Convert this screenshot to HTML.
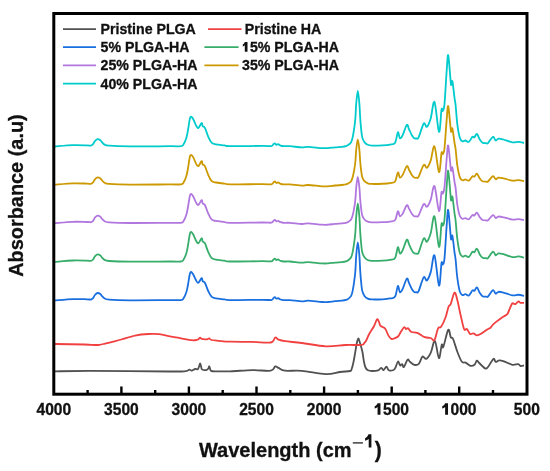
<!DOCTYPE html>
<html><head><meta charset="utf-8"><style>
html,body{margin:0;padding:0;background:#fff;}
svg{display:block;will-change:transform;}
text{font-family:"Liberation Sans",sans-serif;font-weight:bold;fill:#111;stroke:#111;stroke-width:0.3px;}
</style></head><body>
<svg width="550" height="471" viewBox="0 0 550 471">
<rect x="0" y="0" width="550" height="471" fill="#fff"/>
<path fill="none" stroke="#515151" stroke-width="1.8" stroke-linejoin="round" d="M55.00,371.40 C60.83,371.30 70.83,370.78 90.00,370.80 C109.17,370.82 154.03,371.45 170.00,371.50 C185.97,371.55 182.58,371.42 185.80,371.10 C189.02,370.78 188.32,369.68 189.30,369.60 C190.28,369.52 190.72,370.70 191.70,370.60 C192.68,370.50 194.18,369.23 195.20,369.00 C196.22,368.77 197.13,369.70 197.80,369.20 C198.47,368.70 198.82,366.98 199.20,366.00 C199.58,365.02 199.80,363.30 200.10,363.30 C200.40,363.30 200.68,364.98 201.00,366.00 C201.32,367.02 201.12,368.72 202.00,369.40 C202.88,370.08 205.23,370.25 206.30,370.10 C207.37,369.95 207.92,369.15 208.40,368.50 C208.88,367.85 208.93,366.20 209.20,366.20 C209.47,366.20 209.70,367.73 210.00,368.50 C210.30,369.27 210.17,370.32 211.00,370.80 C211.83,371.28 211.75,371.32 215.00,371.40 C218.25,371.48 224.28,371.52 230.50,371.30 C236.72,371.08 245.58,370.20 252.30,370.10 C259.02,370.00 266.98,371.32 270.80,370.70 C274.62,370.08 273.92,366.87 275.20,366.40 C276.48,365.93 276.87,367.18 278.50,367.90 C280.13,368.62 281.12,370.22 285.00,370.70 C288.88,371.18 295.00,370.23 301.80,370.80 C308.60,371.37 319.43,373.90 325.80,374.10 C332.17,374.30 335.97,372.52 340.00,372.00 C344.03,371.48 348.08,371.42 350.00,371.00 C351.92,370.58 350.92,371.00 351.50,369.50 C352.08,368.00 352.87,364.95 353.50,362.00 C354.13,359.05 354.75,354.97 355.30,351.80 C355.85,348.63 356.28,345.22 356.80,343.00 C357.32,340.78 357.87,338.50 358.40,338.50 C358.93,338.50 359.33,340.78 360.00,343.00 C360.67,345.22 361.73,348.63 362.40,351.80 C363.07,354.97 363.48,359.38 364.00,362.00 C364.52,364.62 364.83,366.12 365.50,367.50 C366.17,368.88 366.92,369.72 368.00,370.30 C369.08,370.88 370.30,371.00 372.00,371.00 C373.70,371.00 376.65,370.83 378.20,370.30 C379.75,369.77 380.40,367.85 381.30,367.80 C382.20,367.75 382.75,370.20 383.60,370.00 C384.45,369.80 385.53,366.57 386.40,366.60 C387.27,366.63 387.62,369.63 388.80,370.20 C389.98,370.77 392.38,370.45 393.50,370.00 C394.62,369.55 394.75,368.92 395.50,367.50 C396.25,366.08 397.22,361.82 398.00,361.50 C398.78,361.18 399.52,365.17 400.20,365.60 C400.88,366.03 401.48,363.87 402.10,364.10 C402.72,364.33 402.98,367.75 403.90,367.00 C404.82,366.25 406.60,360.47 407.60,359.60 C408.60,358.73 408.78,360.93 409.90,361.80 C411.02,362.67 412.82,364.47 414.30,364.80 C415.78,365.13 417.43,365.17 418.80,363.80 C420.17,362.43 421.27,357.42 422.50,356.60 C423.73,355.78 424.83,359.52 426.20,358.90 C427.57,358.28 429.25,355.88 430.70,352.90 C432.15,349.92 433.53,340.13 434.90,341.00 C436.27,341.87 437.75,357.48 438.90,358.10 C440.05,358.72 441.07,346.55 441.80,344.70 C442.53,342.85 442.23,349.47 443.30,347.00 C444.37,344.53 446.95,331.52 448.20,329.90 C449.45,328.28 450.00,335.82 450.80,337.30 C451.60,338.78 451.88,336.32 453.00,338.80 C454.12,341.28 456.02,348.37 457.50,352.20 C458.98,356.03 460.55,360.07 461.90,361.80 C463.25,363.53 464.20,361.93 465.60,362.60 C467.00,363.27 468.82,365.43 470.30,365.80 C471.78,366.17 473.42,365.65 474.50,364.80 C475.58,363.95 476.02,361.00 476.80,360.70 C477.58,360.40 477.82,361.72 479.20,363.00 C480.58,364.28 483.63,367.73 485.10,368.40 C486.57,369.07 486.62,368.58 488.00,367.00 C489.38,365.42 492.12,359.75 493.40,358.90 C494.68,358.05 494.72,361.67 495.70,361.90 C496.68,362.13 497.92,360.40 499.30,360.30 C500.68,360.20 501.83,360.55 504.00,361.30 C506.17,362.05 509.93,364.32 512.30,364.80 C514.67,365.28 516.82,364.00 518.20,364.20 C519.58,364.40 519.63,365.80 520.60,366.00 C521.57,366.20 523.43,365.50 524.00,365.40"/><path fill="none" stroke="#F14040" stroke-width="1.8" stroke-linejoin="round" d="M55.00,344.00 C60.00,344.08 78.50,344.33 85.00,344.50 C91.50,344.67 91.58,344.95 94.00,345.00 C96.42,345.05 97.67,345.03 99.50,344.80 C101.33,344.57 102.87,344.10 105.00,343.60 C107.13,343.10 109.57,342.48 112.30,341.80 C115.03,341.12 117.62,340.53 121.40,339.50 C125.18,338.47 130.53,336.52 135.00,335.60 C139.47,334.68 144.18,334.23 148.20,334.00 C152.22,333.77 155.47,333.80 159.10,334.20 C162.73,334.60 167.20,335.88 170.00,336.40 C172.80,336.92 172.28,336.67 175.90,337.30 C179.52,337.93 188.10,339.82 191.70,340.20 C195.30,340.58 196.28,339.87 197.50,339.60 C198.72,339.33 198.57,338.93 199.00,338.60 C199.43,338.27 199.70,337.57 200.10,337.60 C200.50,337.63 200.92,338.55 201.40,338.80 C201.88,339.05 202.08,339.02 203.00,339.10 C203.92,339.18 205.87,339.40 206.90,339.30 C207.93,339.20 208.43,338.38 209.20,338.50 C209.97,338.62 209.93,339.62 211.50,340.00 C213.07,340.38 215.43,340.52 218.60,340.80 C221.77,341.08 224.88,341.52 230.50,341.70 C236.12,341.88 245.58,341.77 252.30,341.90 C259.02,342.03 266.98,343.23 270.80,342.50 C274.62,341.77 273.92,337.98 275.20,337.50 C276.48,337.02 276.87,338.98 278.50,339.60 C280.13,340.22 281.12,340.63 285.00,341.20 C288.88,341.77 295.00,342.15 301.80,343.00 C308.60,343.85 318.52,345.97 325.80,346.30 C333.08,346.63 339.55,345.23 345.50,345.00 C351.45,344.77 358.37,345.23 361.50,344.90 C364.63,344.57 363.52,343.73 364.30,343.00 C365.08,342.27 365.37,342.05 366.20,340.50 C367.03,338.95 367.98,336.12 369.30,333.70 C370.62,331.28 372.82,328.40 374.10,326.00 C375.38,323.60 376.20,320.02 377.00,319.30 C377.80,318.58 378.35,320.65 378.90,321.70 C379.45,322.75 379.50,324.63 380.30,325.60 C381.10,326.57 382.82,326.87 383.70,327.50 C384.58,328.13 384.80,328.05 385.60,329.40 C386.40,330.75 387.55,334.02 388.50,335.60 C389.45,337.18 390.35,338.42 391.30,338.90 C392.25,339.38 393.08,338.90 394.20,338.50 C395.32,338.10 396.88,337.62 398.00,336.50 C399.12,335.38 399.87,333.35 400.90,331.80 C401.93,330.25 403.32,327.65 404.20,327.20 C405.08,326.75 405.55,328.92 406.20,329.10 C406.85,329.28 407.23,327.82 408.10,328.30 C408.97,328.78 409.87,331.25 411.40,332.00 C412.93,332.75 415.08,331.93 417.30,332.80 C419.52,333.67 422.47,336.33 424.70,337.20 C426.93,338.07 429.08,337.50 430.70,338.00 C432.32,338.50 433.17,341.82 434.40,340.20 C435.63,338.58 436.98,330.53 438.10,328.30 C439.22,326.07 439.85,328.65 441.10,326.80 C442.35,324.95 444.37,320.53 445.60,317.20 C446.83,313.87 447.63,309.03 448.50,306.80 C449.37,304.57 449.80,306.17 450.80,303.80 C451.80,301.43 453.38,293.10 454.50,292.60 C455.62,292.10 456.52,297.20 457.50,300.80 C458.48,304.40 459.30,309.48 460.40,314.20 C461.50,318.92 463.02,326.63 464.10,329.10 C465.18,331.57 465.90,328.18 466.90,329.00 C467.90,329.82 469.03,333.27 470.10,334.00 C471.17,334.73 472.13,333.18 473.30,333.40 C474.47,333.62 475.72,335.30 477.10,335.30 C478.48,335.30 479.90,334.38 481.60,333.40 C483.30,332.42 485.82,330.35 487.30,329.40 C488.78,328.45 489.43,328.62 490.50,327.70 C491.57,326.78 491.78,325.60 493.70,323.90 C495.62,322.20 499.77,319.10 502.00,317.50 C504.23,315.90 505.93,315.47 507.10,314.30 C508.27,313.13 508.15,312.30 509.00,310.50 C509.85,308.70 511.15,304.57 512.20,303.50 C513.25,302.43 514.25,304.47 515.30,304.10 C516.35,303.73 517.65,301.52 518.50,301.30 C519.35,301.08 519.48,302.55 520.40,302.80 C521.32,303.05 523.40,302.80 524.00,302.80"/><path fill="none" stroke="#1A6FDF" stroke-width="1.8" stroke-linejoin="round" d="M55.00,300.40 C58.00,300.18 67.67,299.28 73.00,299.10 C78.33,298.92 84.02,299.23 87.00,299.30 C89.98,299.37 89.88,299.70 90.90,299.50 C91.92,299.30 92.43,298.85 93.10,298.10 C93.77,297.35 94.17,295.85 94.90,295.00 C95.63,294.15 96.58,293.15 97.50,293.00 C98.42,292.85 99.68,293.62 100.40,294.10 C101.12,294.58 101.08,295.17 101.80,295.90 C102.52,296.63 103.48,297.88 104.70,298.50 C105.92,299.12 104.88,299.30 109.10,299.60 C113.32,299.90 119.85,300.22 130.00,300.30 C140.15,300.38 161.52,300.13 170.00,300.10 C178.48,300.07 178.63,300.41 180.90,300.11 C183.17,299.82 182.68,299.66 183.60,298.31 C184.52,296.96 185.67,294.30 186.40,292.04 C187.13,289.78 187.37,287.92 188.00,284.72 C188.63,281.53 189.38,274.65 190.20,272.85 C191.02,271.04 191.90,272.60 192.90,273.89 C193.90,275.19 195.28,279.17 196.20,280.64 C197.12,282.11 197.50,283.16 198.40,282.73 C199.30,282.30 200.88,278.33 201.60,278.07 C202.32,277.82 202.15,280.43 202.70,281.21 C203.25,281.99 203.98,281.10 204.90,282.73 C205.82,284.36 207.10,288.67 208.20,290.99 C209.30,293.32 210.23,295.48 211.50,296.69 C212.77,297.91 213.63,297.87 215.80,298.31 C217.97,298.75 222.13,299.05 224.50,299.35 C226.87,299.66 223.75,300.04 230.00,300.11 C236.25,300.19 255.12,299.82 262.00,299.80 C268.88,299.78 269.43,300.23 271.30,300.00 C273.17,299.77 272.62,298.87 273.20,298.40 C273.78,297.93 274.25,297.15 274.80,297.20 C275.35,297.25 275.95,298.55 276.50,298.70 C277.05,298.85 277.43,297.97 278.10,298.10 C278.77,298.23 279.55,299.17 280.50,299.50 C281.45,299.83 282.22,300.00 283.80,300.10 C285.38,300.20 286.97,299.90 290.00,300.10 C293.03,300.30 299.00,301.20 302.00,301.30 C305.00,301.40 304.67,300.58 308.00,300.70 C311.33,300.82 318.67,301.78 322.00,302.00 C325.33,302.22 325.83,302.13 328.00,302.00 C330.17,301.87 332.67,301.42 335.00,301.20 C337.33,300.98 340.17,300.90 342.00,300.70 C343.83,300.50 344.92,300.33 346.00,299.98 C347.08,299.64 347.65,299.30 348.50,298.62 C349.35,297.94 350.40,297.25 351.10,295.91 C351.80,294.57 352.17,293.12 352.70,290.58 C353.23,288.03 353.85,283.98 354.30,280.65 C354.75,277.32 355.08,274.75 355.40,270.62 C355.72,266.49 355.80,260.60 356.20,255.88 C356.60,251.16 357.27,242.30 357.80,242.30 C358.33,242.30 359.00,251.16 359.40,255.88 C359.80,260.60 359.93,266.49 360.20,270.62 C360.47,274.75 360.67,277.32 361.00,280.65 C361.33,283.98 361.62,288.03 362.20,290.58 C362.78,293.12 363.58,294.57 364.50,295.91 C365.42,297.25 366.45,298.03 367.70,298.62 C368.95,299.22 369.53,299.35 372.00,299.46 C374.47,299.57 379.50,299.45 382.50,299.29 C385.50,299.13 387.90,298.94 390.00,298.48 C392.10,298.03 393.78,298.65 395.10,296.56 C396.42,294.47 397.10,286.70 397.90,285.96 C398.70,285.22 399.10,291.63 399.90,292.12 C400.70,292.61 401.55,291.14 402.70,288.89 C403.85,286.63 405.73,279.54 406.80,278.58 C407.87,277.62 408.23,281.34 409.10,283.13 C409.97,284.91 411.15,287.81 412.00,289.29 C412.85,290.77 413.47,291.53 414.20,292.02 C414.93,292.51 415.67,292.35 416.40,292.22 C417.13,292.08 417.38,293.70 418.60,291.21 C419.82,288.72 422.32,279.06 423.70,277.27 C425.08,275.49 425.73,281.36 426.90,280.50 C428.07,279.64 429.43,276.29 430.70,272.12 C431.97,267.95 433.12,253.20 434.50,255.45 C435.88,257.71 437.83,284.37 439.00,285.65 C440.17,286.93 440.87,266.67 441.50,263.13 C442.13,259.60 442.30,265.24 442.80,264.44 C443.30,263.64 443.85,264.87 444.50,258.32 C445.15,251.78 446.08,233.21 446.70,225.16 C447.32,217.11 447.57,208.54 448.20,210.01 C448.83,211.48 450.02,229.04 450.50,233.97 C450.98,238.90 450.78,239.30 451.10,239.61 C451.42,239.93 451.82,233.64 452.40,235.85 C452.98,238.06 454.07,248.97 454.60,252.88 C455.13,256.79 455.15,255.16 455.60,259.31 C456.05,263.45 456.60,272.39 457.30,277.74 C458.00,283.10 458.93,288.54 459.80,291.44 C460.67,294.34 461.58,294.68 462.50,295.14 C463.42,295.60 464.23,294.14 465.30,294.19 C466.37,294.24 467.70,296.09 468.90,295.45 C470.10,294.81 471.58,291.12 472.50,290.35 C473.42,289.58 473.67,291.33 474.40,290.83 C475.13,290.33 476.00,287.00 476.90,287.36 C477.80,287.72 478.87,291.51 479.80,292.98 C480.73,294.44 481.43,295.56 482.50,296.17 C483.57,296.78 485.28,296.57 486.20,296.62 C487.12,296.68 486.87,297.59 488.00,296.49 C489.13,295.40 491.72,290.52 493.00,290.06 C494.28,289.60 494.78,293.47 495.70,293.76 C496.62,294.05 497.20,291.99 498.50,291.80 C499.80,291.61 501.17,292.05 503.50,292.64 C505.83,293.23 510.02,294.98 512.50,295.34 C514.98,295.69 516.48,294.66 518.40,294.75 C520.32,294.84 523.07,295.69 524.00,295.88"/><path fill="none" stroke="#37AD6B" stroke-width="1.8" stroke-linejoin="round" d="M55.00,261.80 C58.00,261.58 67.67,260.68 73.00,260.50 C78.33,260.32 84.02,260.63 87.00,260.70 C89.98,260.77 89.88,261.10 90.90,260.90 C91.92,260.70 92.43,260.25 93.10,259.50 C93.77,258.75 94.17,257.25 94.90,256.40 C95.63,255.55 96.58,254.55 97.50,254.40 C98.42,254.25 99.68,255.02 100.40,255.50 C101.12,255.98 101.08,256.57 101.80,257.30 C102.52,258.03 103.48,259.28 104.70,259.90 C105.92,260.52 104.88,260.70 109.10,261.00 C113.32,261.30 119.85,261.62 130.00,261.70 C140.15,261.78 161.52,261.53 170.00,261.50 C178.48,261.47 178.63,261.82 180.90,261.50 C183.17,261.18 182.68,261.02 183.60,259.60 C184.52,258.18 185.67,255.38 186.40,253.00 C187.13,250.62 187.37,248.67 188.00,245.30 C188.63,241.93 189.38,234.70 190.20,232.80 C191.02,230.90 191.90,232.53 192.90,233.90 C193.90,235.27 195.28,239.45 196.20,241.00 C197.12,242.55 197.50,243.65 198.40,243.20 C199.30,242.75 200.88,238.57 201.60,238.30 C202.32,238.03 202.15,240.78 202.70,241.60 C203.25,242.42 203.98,241.48 204.90,243.20 C205.82,244.92 207.10,249.45 208.20,251.90 C209.30,254.35 210.23,256.62 211.50,257.90 C212.77,259.18 213.63,259.13 215.80,259.60 C217.97,260.07 222.13,260.38 224.50,260.70 C226.87,261.02 223.75,261.42 230.00,261.50 C236.25,261.58 255.12,261.22 262.00,261.20 C268.88,261.18 269.43,261.63 271.30,261.40 C273.17,261.17 272.62,260.27 273.20,259.80 C273.78,259.33 274.25,258.55 274.80,258.60 C275.35,258.65 275.95,259.95 276.50,260.10 C277.05,260.25 277.43,259.37 278.10,259.50 C278.77,259.63 279.55,260.57 280.50,260.90 C281.45,261.23 282.22,261.40 283.80,261.50 C285.38,261.60 286.97,261.30 290.00,261.50 C293.03,261.70 299.00,262.60 302.00,262.70 C305.00,262.80 304.67,261.98 308.00,262.10 C311.33,262.22 318.67,263.18 322.00,263.40 C325.33,263.62 325.83,263.53 328.00,263.40 C330.17,263.27 332.67,262.82 335.00,262.60 C337.33,262.38 340.17,262.30 342.00,262.10 C343.83,261.90 344.92,261.73 346.00,261.38 C347.08,261.03 347.65,260.70 348.50,260.02 C349.35,259.33 350.40,258.63 351.10,257.29 C351.80,255.94 352.17,254.49 352.70,251.93 C353.23,249.38 353.85,245.30 354.30,241.96 C354.75,238.61 355.08,236.02 355.40,231.88 C355.72,227.73 355.80,221.81 356.20,217.07 C356.60,212.33 357.27,203.42 357.80,203.42 C358.33,203.42 359.00,212.33 359.40,217.07 C359.80,221.81 359.93,227.73 360.20,231.88 C360.47,236.02 360.67,238.61 361.00,241.96 C361.33,245.30 361.62,249.38 362.20,251.93 C362.78,254.49 363.58,255.94 364.50,257.29 C365.42,258.63 366.45,259.42 367.70,260.02 C368.95,260.61 369.53,260.74 372.00,260.86 C374.47,260.97 379.50,260.84 382.50,260.68 C385.50,260.51 387.90,260.32 390.00,259.86 C392.10,259.40 393.78,260.03 395.10,257.92 C396.42,255.82 397.10,247.96 397.90,247.21 C398.70,246.47 399.10,252.94 399.90,253.44 C400.70,253.93 401.55,252.45 402.70,250.17 C403.85,247.89 405.73,240.74 406.80,239.77 C407.87,238.80 408.23,242.56 409.10,244.36 C409.97,246.16 411.15,249.08 412.00,250.58 C412.85,252.08 413.47,252.84 414.20,253.33 C414.93,253.83 415.67,253.67 416.40,253.54 C417.13,253.40 417.38,255.03 418.60,252.52 C419.82,250.00 422.32,240.24 423.70,238.44 C425.08,236.64 425.73,242.57 426.90,241.71 C428.07,240.84 429.43,237.46 430.70,233.24 C431.97,229.02 433.12,214.13 434.50,216.41 C435.88,218.69 437.83,245.62 439.00,246.91 C440.17,248.20 440.87,227.73 441.50,224.16 C442.13,220.59 442.30,226.28 442.80,225.49 C443.30,224.70 443.85,226.00 444.50,219.43 C445.15,212.85 446.08,194.14 446.70,186.03 C447.32,177.92 447.57,169.30 448.20,170.77 C448.83,172.25 450.02,189.93 450.50,194.90 C450.98,199.87 450.78,200.27 451.10,200.58 C451.42,200.90 451.82,194.57 452.40,196.80 C452.98,199.02 454.07,210.01 454.60,213.94 C455.13,217.88 455.15,216.25 455.60,220.42 C456.05,224.58 456.60,233.54 457.30,238.93 C458.00,244.33 458.93,249.85 459.80,252.78 C460.67,255.72 461.58,256.07 462.50,256.53 C463.42,257.00 464.23,255.53 465.30,255.59 C466.37,255.65 467.70,257.53 468.90,256.89 C470.10,256.25 471.58,252.53 472.50,251.76 C473.42,250.98 473.67,252.75 474.40,252.25 C475.13,251.75 476.00,248.39 476.90,248.76 C477.80,249.13 478.87,252.96 479.80,254.45 C480.73,255.94 481.43,257.07 482.50,257.69 C483.57,258.31 485.28,258.11 486.20,258.17 C487.12,258.23 486.87,259.15 488.00,258.05 C489.13,256.95 491.72,252.03 493.00,251.58 C494.28,251.13 494.78,255.03 495.70,255.33 C496.62,255.63 497.20,253.55 498.50,253.37 C499.80,253.19 501.17,253.64 503.50,254.24 C505.83,254.85 510.02,256.65 512.50,257.02 C514.98,257.39 516.48,256.36 518.40,256.46 C520.32,256.57 523.07,257.44 524.00,257.64"/><path fill="none" stroke="#B177DE" stroke-width="1.8" stroke-linejoin="round" d="M55.00,223.10 C58.00,222.88 67.67,221.98 73.00,221.80 C78.33,221.62 84.02,221.93 87.00,222.00 C89.98,222.07 89.88,222.40 90.90,222.20 C91.92,222.00 92.43,221.55 93.10,220.80 C93.77,220.05 94.17,218.55 94.90,217.70 C95.63,216.85 96.58,215.85 97.50,215.70 C98.42,215.55 99.68,216.32 100.40,216.80 C101.12,217.28 101.08,217.87 101.80,218.60 C102.52,219.33 103.48,220.58 104.70,221.20 C105.92,221.82 104.88,222.00 109.10,222.30 C113.32,222.60 119.85,222.92 130.00,223.00 C140.15,223.08 161.52,222.83 170.00,222.80 C178.48,222.77 178.63,223.11 180.90,222.81 C183.17,222.50 182.68,222.34 183.60,220.96 C184.52,219.57 185.67,216.84 186.40,214.52 C187.13,212.20 187.37,210.29 188.00,207.01 C188.63,203.73 189.38,196.68 190.20,194.82 C191.02,192.97 191.90,194.56 192.90,195.90 C193.90,197.23 195.28,201.31 196.20,202.82 C197.12,204.33 197.50,205.40 198.40,204.97 C199.30,204.53 200.88,200.45 201.60,200.19 C202.32,199.93 202.15,202.61 202.70,203.41 C203.25,204.20 203.98,203.29 204.90,204.97 C205.82,206.64 207.10,211.06 208.20,213.45 C209.30,215.84 210.23,218.05 211.50,219.30 C212.77,220.55 213.63,220.50 215.80,220.96 C217.97,221.41 222.13,221.72 224.50,222.03 C226.87,222.34 223.75,222.73 230.00,222.81 C236.25,222.89 255.12,222.52 262.00,222.50 C268.88,222.48 269.43,222.93 271.30,222.70 C273.17,222.47 272.62,221.57 273.20,221.10 C273.78,220.63 274.25,219.85 274.80,219.90 C275.35,219.95 275.95,221.25 276.50,221.40 C277.05,221.55 277.43,220.67 278.10,220.80 C278.77,220.93 279.55,221.87 280.50,222.20 C281.45,222.53 282.22,222.70 283.80,222.80 C285.38,222.90 286.97,222.60 290.00,222.80 C293.03,223.00 299.00,223.90 302.00,224.00 C305.00,224.10 304.67,223.28 308.00,223.40 C311.33,223.52 318.67,224.48 322.00,224.70 C325.33,224.92 325.83,224.83 328.00,224.70 C330.17,224.57 332.67,224.12 335.00,223.90 C337.33,223.68 340.17,223.59 342.00,223.40 C343.83,223.21 344.92,223.05 346.00,222.77 C347.08,222.48 347.65,222.23 348.50,221.69 C349.35,221.15 350.40,220.60 351.10,219.53 C351.80,218.47 352.17,217.32 352.70,215.30 C353.23,213.28 353.85,210.06 354.30,207.41 C354.75,204.77 355.08,202.72 355.40,199.44 C355.72,196.17 355.80,191.49 356.20,187.74 C356.60,183.99 357.27,176.95 357.80,176.95 C358.33,176.95 359.00,183.99 359.40,187.74 C359.80,191.49 359.93,196.17 360.20,199.44 C360.47,202.72 360.67,204.77 361.00,207.41 C361.33,210.06 361.62,213.28 362.20,215.30 C362.78,217.32 363.58,218.47 364.50,219.53 C365.42,220.60 366.45,221.22 367.70,221.69 C368.95,222.16 369.53,222.27 372.00,222.35 C374.47,222.44 379.50,222.33 382.50,222.19 C385.50,222.05 387.90,221.90 390.00,221.52 C392.10,221.15 393.78,221.66 395.10,219.95 C396.42,218.23 397.10,211.84 397.90,211.23 C398.70,210.62 399.10,215.89 399.90,216.29 C400.70,216.70 401.55,215.49 402.70,213.64 C403.85,211.78 405.73,205.96 406.80,205.17 C407.87,204.38 408.23,207.44 409.10,208.91 C409.97,210.37 411.15,212.75 412.00,213.97 C412.85,215.19 413.47,215.81 414.20,216.21 C414.93,216.61 415.67,216.49 416.40,216.38 C417.13,216.27 417.38,217.59 418.60,215.55 C419.82,213.50 422.32,205.56 423.70,204.09 C425.08,202.63 425.73,207.45 426.90,206.75 C428.07,206.04 429.43,203.29 430.70,199.86 C431.97,196.43 433.12,184.31 434.50,186.16 C435.88,188.02 437.83,209.93 439.00,210.98 C440.17,212.03 440.87,195.38 441.50,192.47 C442.13,189.57 442.30,194.47 442.80,193.55 C443.30,192.64 443.85,192.82 444.50,186.97 C445.15,181.13 446.08,165.41 446.70,158.50 C447.32,151.59 447.57,144.23 448.20,145.50 C448.83,146.76 450.02,161.83 450.50,166.06 C450.98,170.30 450.78,170.64 451.10,170.91 C451.42,171.18 451.82,165.78 452.40,167.68 C452.98,169.58 454.07,178.94 454.60,182.30 C455.13,185.66 455.15,184.12 455.60,187.82 C456.05,191.53 456.60,199.85 457.30,204.51 C458.00,209.17 458.93,213.40 459.80,215.80 C460.67,218.19 461.58,218.48 462.50,218.87 C463.42,219.25 464.23,218.06 465.30,218.12 C466.37,218.18 467.70,219.71 468.90,219.20 C470.10,218.69 471.58,215.67 472.50,215.05 C473.42,214.43 473.67,215.87 474.40,215.46 C475.13,215.06 476.00,212.34 476.90,212.64 C477.80,212.95 478.87,216.07 479.80,217.29 C480.73,218.51 481.43,219.43 482.50,219.95 C483.57,220.46 485.28,220.31 486.20,220.36 C487.12,220.42 486.87,221.16 488.00,220.28 C489.13,219.39 491.72,215.41 493.00,215.05 C494.28,214.69 494.78,217.87 495.70,218.12 C496.62,218.37 497.20,216.68 498.50,216.54 C499.80,216.40 501.17,216.78 503.50,217.29 C505.83,217.80 510.02,219.30 512.50,219.61 C514.98,219.93 516.48,219.10 518.40,219.20 C520.32,219.30 523.07,220.03 524.00,220.19"/><path fill="none" stroke="#CC9900" stroke-width="1.8" stroke-linejoin="round" d="M55.00,184.70 C58.00,184.48 67.67,183.58 73.00,183.40 C78.33,183.22 84.02,183.53 87.00,183.60 C89.98,183.67 89.88,184.00 90.90,183.80 C91.92,183.60 92.43,183.15 93.10,182.40 C93.77,181.65 94.17,180.15 94.90,179.30 C95.63,178.45 96.58,177.45 97.50,177.30 C98.42,177.15 99.68,177.92 100.40,178.40 C101.12,178.88 101.08,179.47 101.80,180.20 C102.52,180.93 103.48,182.18 104.70,182.80 C105.92,183.42 104.88,183.60 109.10,183.90 C113.32,184.20 119.85,184.52 130.00,184.60 C140.15,184.68 161.52,184.43 170.00,184.40 C178.48,184.37 178.63,184.72 180.90,184.40 C183.17,184.08 182.68,183.92 183.60,182.50 C184.52,181.08 185.67,178.28 186.40,175.90 C187.13,173.52 187.37,171.57 188.00,168.20 C188.63,164.83 189.38,157.60 190.20,155.70 C191.02,153.80 191.90,155.43 192.90,156.80 C193.90,158.17 195.28,162.35 196.20,163.90 C197.12,165.45 197.50,166.55 198.40,166.10 C199.30,165.65 200.88,161.47 201.60,161.20 C202.32,160.93 202.15,163.68 202.70,164.50 C203.25,165.32 203.98,164.38 204.90,166.10 C205.82,167.82 207.10,172.35 208.20,174.80 C209.30,177.25 210.23,179.52 211.50,180.80 C212.77,182.08 213.63,182.03 215.80,182.50 C217.97,182.97 222.13,183.28 224.50,183.60 C226.87,183.92 223.75,184.32 230.00,184.40 C236.25,184.48 255.12,184.12 262.00,184.10 C268.88,184.08 269.43,184.53 271.30,184.30 C273.17,184.07 272.62,183.17 273.20,182.70 C273.78,182.23 274.25,181.45 274.80,181.50 C275.35,181.55 275.95,182.85 276.50,183.00 C277.05,183.15 277.43,182.27 278.10,182.40 C278.77,182.53 279.55,183.47 280.50,183.80 C281.45,184.13 282.22,184.30 283.80,184.40 C285.38,184.50 286.97,184.20 290.00,184.40 C293.03,184.60 299.00,185.50 302.00,185.60 C305.00,185.70 304.67,184.88 308.00,185.00 C311.33,185.12 318.67,186.08 322.00,186.30 C325.33,186.52 325.83,186.43 328.00,186.30 C330.17,186.17 332.67,185.72 335.00,185.50 C337.33,185.28 340.17,185.19 342.00,185.00 C343.83,184.81 344.92,184.65 346.00,184.37 C347.08,184.09 347.65,183.84 348.50,183.31 C349.35,182.78 350.40,182.24 351.10,181.20 C351.80,180.15 352.17,179.02 352.70,177.04 C353.23,175.06 353.85,171.89 354.30,169.30 C354.75,166.70 355.08,164.69 355.40,161.47 C355.72,158.25 355.80,153.66 356.20,149.98 C356.60,146.30 357.27,139.39 357.80,139.39 C358.33,139.39 359.00,146.30 359.40,149.98 C359.80,153.66 359.93,158.25 360.20,161.47 C360.47,164.69 360.67,166.70 361.00,169.30 C361.33,171.89 361.62,175.06 362.20,177.04 C362.78,179.02 363.58,180.15 364.50,181.20 C365.42,182.24 366.45,182.85 367.70,183.31 C368.95,183.78 369.53,183.89 372.00,183.97 C374.47,184.04 379.50,183.90 382.50,183.75 C385.50,183.60 387.90,183.45 390.00,183.07 C392.10,182.68 393.78,183.21 395.10,181.43 C396.42,179.65 397.10,173.03 397.90,172.40 C398.70,171.77 399.10,177.23 399.90,177.65 C400.70,178.06 401.55,176.82 402.70,174.90 C403.85,172.98 405.73,166.94 406.80,166.12 C407.87,165.31 408.23,168.47 409.10,169.99 C409.97,171.51 411.15,173.98 412.00,175.24 C412.85,176.50 413.47,177.15 414.20,177.56 C414.93,177.98 415.67,177.85 416.40,177.73 C417.13,177.62 417.38,179.00 418.60,176.87 C419.82,174.75 422.32,166.53 423.70,165.01 C425.08,163.49 425.73,168.49 426.90,167.76 C428.07,167.03 429.43,164.17 430.70,160.62 C431.97,157.07 433.12,144.51 434.50,146.43 C435.88,148.35 437.83,171.05 439.00,172.14 C440.17,173.23 440.87,155.98 441.50,152.97 C442.13,149.96 442.30,154.89 442.80,154.08 C443.30,153.28 443.85,153.94 444.50,148.15 C445.15,142.36 446.08,126.33 446.70,119.34 C447.32,112.35 447.57,104.91 448.20,106.18 C448.83,107.46 450.02,122.71 450.50,126.99 C450.98,131.28 450.78,131.62 451.10,131.90 C451.42,132.17 451.82,126.71 452.40,128.63 C452.98,130.55 454.07,140.02 454.60,143.42 C455.13,146.82 455.15,145.34 455.60,149.01 C456.05,152.67 456.60,160.74 457.30,165.42 C458.00,170.10 458.93,174.62 459.80,177.10 C460.67,179.57 461.58,179.87 462.50,180.26 C463.42,180.66 464.23,179.42 465.30,179.47 C466.37,179.52 467.70,181.10 468.90,180.56 C470.10,180.02 471.58,176.88 472.50,176.23 C473.42,175.58 473.67,177.07 474.40,176.65 C475.13,176.23 476.00,173.40 476.90,173.71 C477.80,174.02 478.87,177.25 479.80,178.50 C480.73,179.76 481.43,180.71 482.50,181.24 C483.57,181.76 485.28,181.59 486.20,181.64 C487.12,181.69 486.87,182.47 488.00,181.54 C489.13,180.61 491.72,176.47 493.00,176.09 C494.28,175.70 494.78,179.00 495.70,179.25 C496.62,179.50 497.20,177.75 498.50,177.60 C499.80,177.44 501.17,177.82 503.50,178.33 C505.83,178.85 510.02,180.37 512.50,180.68 C514.98,180.99 516.48,180.12 518.40,180.21 C520.32,180.29 523.07,181.03 524.00,181.20"/><path fill="none" stroke="#00CBCC" stroke-width="1.8" stroke-linejoin="round" d="M55.00,146.50 C58.00,146.28 67.67,145.38 73.00,145.20 C78.33,145.02 84.02,145.33 87.00,145.40 C89.98,145.47 89.88,145.80 90.90,145.60 C91.92,145.40 92.43,144.95 93.10,144.20 C93.77,143.45 94.17,141.95 94.90,141.10 C95.63,140.25 96.58,139.25 97.50,139.10 C98.42,138.95 99.68,139.72 100.40,140.20 C101.12,140.68 101.08,141.27 101.80,142.00 C102.52,142.73 103.48,143.98 104.70,144.60 C105.92,145.22 104.88,145.40 109.10,145.70 C113.32,146.00 119.85,146.32 130.00,146.40 C140.15,146.48 161.52,146.23 170.00,146.20 C178.48,146.17 178.63,146.52 180.90,146.20 C183.17,145.88 182.68,145.72 183.60,144.30 C184.52,142.88 185.67,140.08 186.40,137.70 C187.13,135.32 187.37,133.37 188.00,130.00 C188.63,126.63 189.38,119.40 190.20,117.50 C191.02,115.60 191.90,117.23 192.90,118.60 C193.90,119.97 195.28,124.15 196.20,125.70 C197.12,127.25 197.50,128.35 198.40,127.90 C199.30,127.45 200.88,123.27 201.60,123.00 C202.32,122.73 202.15,125.48 202.70,126.30 C203.25,127.12 203.98,126.18 204.90,127.90 C205.82,129.62 207.10,134.15 208.20,136.60 C209.30,139.05 210.23,141.32 211.50,142.60 C212.77,143.88 213.63,143.83 215.80,144.30 C217.97,144.77 222.13,145.08 224.50,145.40 C226.87,145.72 223.75,146.12 230.00,146.20 C236.25,146.28 255.12,145.92 262.00,145.90 C268.88,145.88 269.43,146.33 271.30,146.10 C273.17,145.87 272.62,144.97 273.20,144.50 C273.78,144.03 274.25,143.25 274.80,143.30 C275.35,143.35 275.95,144.65 276.50,144.80 C277.05,144.95 277.43,144.07 278.10,144.20 C278.77,144.33 279.55,145.27 280.50,145.60 C281.45,145.93 282.22,146.10 283.80,146.20 C285.38,146.30 286.97,146.00 290.00,146.20 C293.03,146.40 299.00,147.30 302.00,147.40 C305.00,147.50 304.67,146.68 308.00,146.80 C311.33,146.92 318.67,147.88 322.00,148.10 C325.33,148.32 325.83,148.23 328.00,148.10 C330.17,147.97 332.67,147.52 335.00,147.30 C337.33,147.08 340.17,147.00 342.00,146.80 C343.83,146.60 344.92,146.43 346.00,146.10 C347.08,145.77 347.65,145.45 348.50,144.80 C349.35,144.15 350.40,143.48 351.10,142.20 C351.80,140.92 352.17,139.53 352.70,137.10 C353.23,134.67 353.85,130.78 354.30,127.60 C354.75,124.42 355.08,121.95 355.40,118.00 C355.72,114.05 355.80,108.42 356.20,103.90 C356.60,99.38 357.27,90.90 357.80,90.90 C358.33,90.90 359.00,99.38 359.40,103.90 C359.80,108.42 359.93,114.05 360.20,118.00 C360.47,121.95 360.67,124.42 361.00,127.60 C361.33,130.78 361.62,134.67 362.20,137.10 C362.78,139.53 363.58,140.92 364.50,142.20 C365.42,143.48 366.45,144.23 367.70,144.80 C368.95,145.37 369.53,145.50 372.00,145.60 C374.47,145.70 379.50,145.57 382.50,145.40 C385.50,145.23 387.90,145.05 390.00,144.60 C392.10,144.15 393.78,144.77 395.10,142.70 C396.42,140.63 397.10,132.93 397.90,132.20 C398.70,131.47 399.10,137.82 399.90,138.30 C400.70,138.78 401.55,137.33 402.70,135.10 C403.85,132.87 405.73,125.85 406.80,124.90 C407.87,123.95 408.23,127.63 409.10,129.40 C409.97,131.17 411.15,134.03 412.00,135.50 C412.85,136.97 413.47,137.72 414.20,138.20 C414.93,138.68 415.67,138.53 416.40,138.40 C417.13,138.27 417.38,139.87 418.60,137.40 C419.82,134.93 422.32,125.37 423.70,123.60 C425.08,121.83 425.73,127.65 426.90,126.80 C428.07,125.95 429.43,122.63 430.70,118.50 C431.97,114.37 433.12,99.77 434.50,102.00 C435.88,104.23 437.83,130.63 439.00,131.90 C440.17,133.17 440.87,113.10 441.50,109.60 C442.13,106.10 442.30,111.83 442.80,110.90 C443.30,109.97 443.85,110.73 444.50,104.00 C445.15,97.27 446.08,78.63 446.70,70.50 C447.32,62.37 447.57,53.72 448.20,55.20 C448.83,56.68 450.02,74.42 450.50,79.40 C450.98,84.38 450.78,84.78 451.10,85.10 C451.42,85.42 451.82,79.07 452.40,81.30 C452.98,83.53 454.07,94.55 454.60,98.50 C455.13,102.45 455.15,100.73 455.60,105.00 C456.05,109.27 456.60,118.65 457.30,124.10 C458.00,129.55 458.93,134.82 459.80,137.70 C460.67,140.58 461.58,140.93 462.50,141.40 C463.42,141.87 464.23,140.43 465.30,140.50 C466.37,140.57 467.70,142.42 468.90,141.80 C470.10,141.18 471.58,137.55 472.50,136.80 C473.42,136.05 473.67,137.78 474.40,137.30 C475.13,136.82 476.00,133.53 476.90,133.90 C477.80,134.27 478.87,138.03 479.80,139.50 C480.73,140.97 481.43,142.08 482.50,142.70 C483.57,143.32 485.28,143.13 486.20,143.20 C487.12,143.27 486.87,144.17 488.00,143.10 C489.13,142.03 491.72,137.23 493.00,136.80 C494.28,136.37 494.78,140.20 495.70,140.50 C496.62,140.80 497.20,138.77 498.50,138.60 C499.80,138.43 501.17,138.88 503.50,139.50 C505.83,140.12 510.02,141.92 512.50,142.30 C514.98,142.68 516.48,141.68 518.40,141.80 C520.32,141.92 523.07,142.80 524.00,143.00"/>
<rect x="53.8" y="13.5" width="473.2" height="380.7" fill="none" stroke="#000" stroke-width="3"/>
<g stroke="#000" stroke-width="2.4"><line x1="493.0" y1="394" x2="493.0" y2="390.0"/><line x1="459.2" y1="394" x2="459.2" y2="386.5"/><line x1="425.4" y1="394" x2="425.4" y2="390.0"/><line x1="391.7" y1="394" x2="391.7" y2="386.5"/><line x1="357.9" y1="394" x2="357.9" y2="390.0"/><line x1="324.1" y1="394" x2="324.1" y2="386.5"/><line x1="290.3" y1="394" x2="290.3" y2="390.0"/><line x1="256.5" y1="394" x2="256.5" y2="386.5"/><line x1="222.7" y1="394" x2="222.7" y2="390.0"/><line x1="188.9" y1="394" x2="188.9" y2="386.5"/><line x1="155.2" y1="394" x2="155.2" y2="390.0"/><line x1="121.4" y1="394" x2="121.4" y2="386.5"/><line x1="87.6" y1="394" x2="87.6" y2="390.0"/></g>
<g style="font-size:15.6px"><text transform="translate(53.8,414.9) scale(1,1.04)" text-anchor="middle">4000</text><text transform="translate(121.4,414.9) scale(1,1.04)" text-anchor="middle">3500</text><text transform="translate(188.9,414.9) scale(1,1.04)" text-anchor="middle">3000</text><text transform="translate(256.5,414.9) scale(1,1.04)" text-anchor="middle">2500</text><text transform="translate(324.1,414.9) scale(1,1.04)" text-anchor="middle">2000</text><text transform="translate(391.7,414.9) scale(1,1.04)" text-anchor="middle"><tspan style="fill:none;stroke:none">1</tspan>500</text><path fill="#111" d="M377.56,403.2 L380.46,403.2 L380.46,414.8 L377.56,414.8 L377.56,406.9 C376.76,407.6 375.76,408.1 374.66,408.5 L374.66,406.2 C376.06,405.6 377.06,404.6 377.56,403.2 Z"/><text transform="translate(459.2,414.9) scale(1,1.04)" text-anchor="middle"><tspan style="fill:none;stroke:none">1</tspan>000</text><path fill="#111" d="M445.13,403.2 L448.03,403.2 L448.03,414.8 L445.13,414.8 L445.13,406.9 C444.33,407.6 443.33,408.1 442.23,408.5 L442.23,406.2 C443.63,405.6 444.63,404.6 445.13,403.2 Z"/><text transform="translate(526.8,414.9) scale(1,1.04)" text-anchor="middle">500</text></g>
<g style="font-size:14.2px"><line x1="63" y1="29.2" x2="96" y2="29.2" stroke="#515151" stroke-width="1.8"/><text transform="translate(100.5,34.0) scale(1,1.04)">Pristine PLGA</text><line x1="63" y1="47.2" x2="96" y2="47.2" stroke="#1A6FDF" stroke-width="1.8"/><text transform="translate(100.5,52.0) scale(1,1.04)">5% PLGA-HA</text><line x1="63" y1="65.4" x2="96" y2="65.4" stroke="#B177DE" stroke-width="1.8"/><text transform="translate(100.5,70.2) scale(1,1.04)">25% PLGA-HA</text><line x1="63" y1="83.7" x2="96" y2="83.7" stroke="#00CBCC" stroke-width="1.8"/><text transform="translate(100.5,88.5) scale(1,1.04)">40% PLGA-HA</text><line x1="208" y1="29.2" x2="241.5" y2="29.2" stroke="#F14040" stroke-width="1.8"/><text transform="translate(244.8,34.0) scale(1,1.04)">Pristine HA</text><line x1="204.4" y1="47.2" x2="238.6" y2="47.2" stroke="#37AD6B" stroke-width="1.8"/><text transform="translate(242.0,52.0) scale(1,1.04)"><tspan style="fill:none;stroke:none">1</tspan>5% PLGA-HA</text><path fill="#111" d="M244.8,42.1 L247.5,42.1 L247.5,51.8 L244.8,51.8 L244.8,45.3 C244.1,45.9 243.6,46.2 242.8,46.5 L242.8,44.4 C243.9,43.9 244.5,43.2 244.8,42.1 Z"/><line x1="204.4" y1="65.4" x2="238.6" y2="65.4" stroke="#CC9900" stroke-width="1.8"/><text transform="translate(242.0,70.2) scale(1,1.04)">35% PLGA-HA</text></g>
<text transform="translate(199,456.7) scale(1,1.04)" style="font-size:20px">Wavelength (cm</text>
<line x1="352.8" y1="442.9" x2="362.9" y2="442.9" stroke="#222" stroke-width="1.3"/>
<path d="M368.5,434.3 L371.4,434.3 L371.4,447.6 L368.7,447.6 L368.7,438.9 C367.8,439.7 366.5,440.4 365.1,440.8 L365.1,438.3 C366.6,437.6 367.8,436.1 368.5,434.3 Z" fill="#111"/>
<text transform="translate(374.8,457) scale(1,1.03)" style="font-size:21px">)</text>
<text transform="translate(23.4,276.8) rotate(-90) scale(1,1.04)" style="font-size:19.9px">Absorbance (a.u)</text>
</svg>
</body></html>
